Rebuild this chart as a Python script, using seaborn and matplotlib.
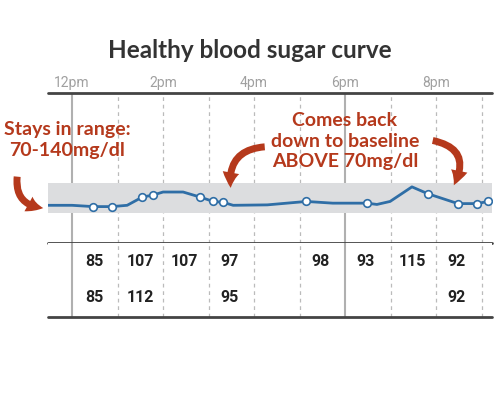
import matplotlib
matplotlib.use("Agg")
import matplotlib.pyplot as plt
import seaborn as sns
import pandas as pd
from matplotlib.patches import FancyArrowPatch

sns.set_theme(style="white")
plt.rcParams['font.family'] = ['Lato', 'DejaVu Sans']

# data (hours of day, mg/dl)
line_hours = [11.47, 12.0, 12.46, 12.88, 13.21, 13.54, 13.78, 14.0, 14.44, 14.82, 15.1, 15.32,
              15.54, 16.29, 17.15, 17.73, 18.48, 18.7, 18.99, 19.47, 19.82, 20.48, 20.9, 21.14, 21.25]
line_vals = [88, 88, 85, 85, 88, 107, 112, 119, 119, 107, 97, 95,
             88, 89, 97, 93, 93, 90, 97, 131, 115, 92, 92, 97, 99]
point_hours = [12.46, 12.88, 13.54, 13.78, 14.82, 15.1, 15.32, 17.15, 18.48, 19.82, 20.48, 20.9, 21.14]
point_vals = [85, 85, 107, 112, 107, 97, 95, 97, 93, 115, 92, 92, 97]
tick_hours = [12, 14, 16, 18, 20]
tick_labels = ["12pm", "2pm", "4pm", "6pm", "8pm"]
row1_hours = [12.48, 13.49, 14.46, 15.47, 17.45, 18.46, 19.47, 20.46]
row1_text = ["85", "107", "107", "97", "98", "93", "115", "92"]
row2_hours = [12.48, 13.49, 15.47, 20.46]
row2_text = ["85", "112", "95", "92"]
range_low, range_high = 70, 140

xmin, xmax = 11.47, 21.23
red = "#b5391c"
blue = "#2f6ea6"

fig = plt.figure(figsize=(5, 4.19), dpi=100)
ax = fig.add_axes([0.096, 0.420, 0.888, 0.358])
tax = fig.add_axes([0.096, 0.2434, 0.888, 0.1766])

for a in (ax, tax):
    a.set_xlim(xmin, xmax)
    for h in range(12, 22):
        if h in (12, 18):
            a.axvline(h, color="#b0b0b0", lw=1.5, zorder=0)
        else:
            a.axvline(h, color="#bbbbbb", lw=0.9, ls=(0, (3, 3)), zorder=0)
    for s in a.spines.values():
        s.set_visible(False)
    a.set_yticks([])

ax.set_ylim(0, 350)
ax.axhspan(range_low, range_high, color="#dcdddf", zorder=0.5, lw=0)
df = pd.DataFrame({"h": line_hours, "v": line_vals})
sns.lineplot(data=df, x="h", y="v", ax=ax, color=blue, lw=2, zorder=3)
pf = pd.DataFrame({"h": point_hours, "v": point_vals})
sns.scatterplot(data=pf, x="h", y="v", ax=ax, color="white", edgecolor=blue, s=30, linewidth=1.2, zorder=4)
ax.set_xlabel(""); ax.set_ylabel("")
ax.xaxis.tick_top()
ax.set_xticks(tick_hours)
ax.set_xticklabels(tick_labels, color="#a0a0a0", fontsize=10, family=["Roboto", "DejaVu Sans"])
ax.tick_params(axis="x", length=0, pad=2)
ax.axhline(350, color="#444444", lw=2, clip_on=False)
ax.axhline(0, color="#444444", lw=2, clip_on=False)

tax.set_ylim(0, 1)
tax.set_xticks([])
tax.axhline(0, color="#444444", lw=2, clip_on=False)
for h, t in zip(row1_hours, row1_text):
    tax.text(h, 0.757, t, ha="center", va="center", fontsize=11.5, fontweight="bold", color="#222222",
             family=["Roboto", "DejaVu Sans"])
for h, t in zip(row2_hours, row2_text):
    tax.text(h, 0.257, t, ha="center", va="center", fontsize=11.5, fontweight="bold", color="#222222",
             family=["Roboto", "DejaVu Sans"])

fig.text(0.5, 0.88, "Healthy blood sugar curve", ha="center", va="center", fontsize=17.5,
         fontweight="bold", color="#333333")
fig.text(0.135, 0.665, "Stays in range:\n70-140mg/dl", ha="center", va="center", fontsize=14,
         color=red, fontweight="bold", linespacing=1.3)
fig.text(0.69, 0.663, "Comes back\ndown to baseline\nABOVE 70mg/dl", ha="center", va="center",
         fontsize=14, color=red, fontweight="bold", linespacing=1.25)

def arrow(p0, p1, rad):
    fig.patches.append(FancyArrowPatch(p0, p1, transform=fig.transFigure, connectionstyle=f"arc3,rad={rad}",
                                       arrowstyle="simple,head_width=12,head_length=11,tail_width=5",
                                       color=red, lw=0))
arrow((0.035, 0.585), (0.092, 0.503), 0.55)
arrow((0.535, 0.65), (0.462, 0.545), 0.55)
arrow((0.86, 0.666), (0.905, 0.552), -0.7)

fig.savefig("out.png", dpi=100)
